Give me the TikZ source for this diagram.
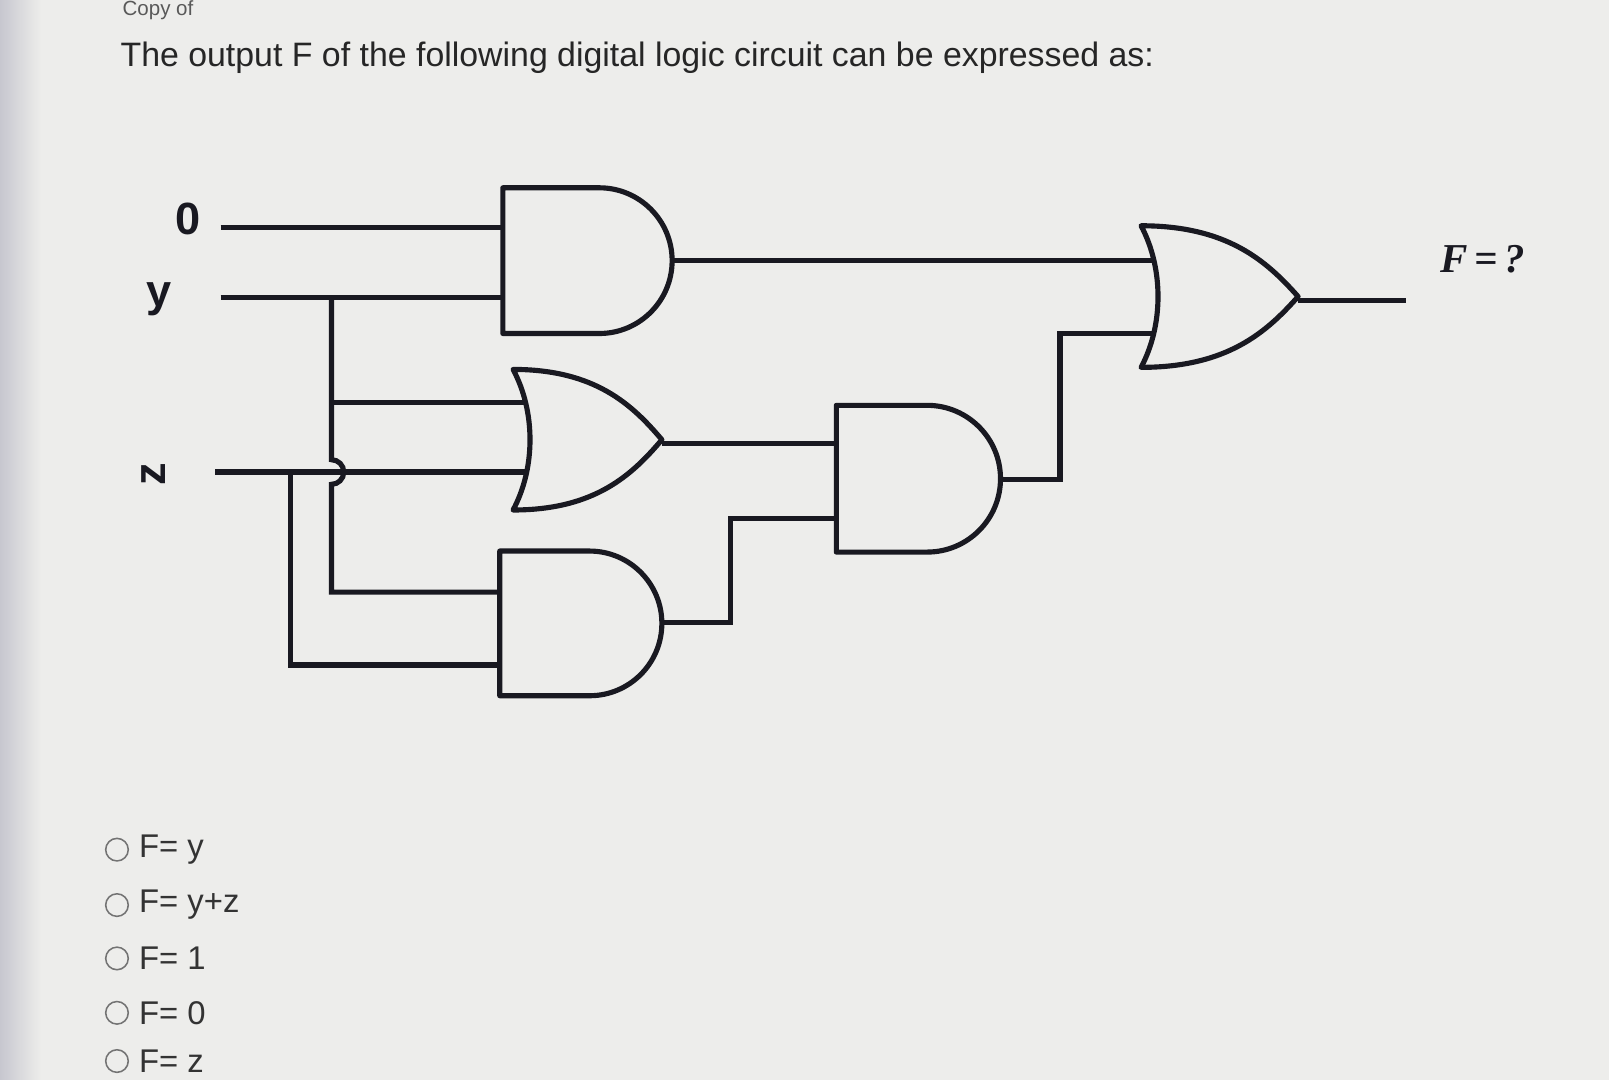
\documentclass[tikz,border=0pt]{standalone}
\usepackage{fontspec}
\setmainfont{Liberation Sans}
\newfontfamily\serifit{Liberation Serif}
\definecolor{bg}{rgb}{0.93,0.93,0.92}
\definecolor{ink}{rgb}{0.10,0.10,0.13}
\newcommand\andgatex[4]{% left top bottom right
  \draw[gate] (#1,#2) -- ({#4-(#3-#2)/2},#2) arc[start angle=-90,end angle=90,radius={(#3-#2)/2}] -- (#1,#3) -- cycle;}
\newcommand\orgatex[4]{% left top bottom tip
  \draw[gate] (#1,#2) .. controls ({#1+(#4-#1)*0.55},#2) and ({#4-(#4-#1)*0.2},{#2+(#3-#2)*0.25}) .. (#4,{(#2+#3)/2})
   .. controls ({#4-(#4-#1)*0.2},{#3-(#3-#2)*0.25}) and ({#1+(#4-#1)*0.55},#3) .. (#1,#3)
   .. controls ({#1+22},{#3-(#3-#2)*0.3}) and ({#1+22},{#2+(#3-#2)*0.3}) .. (#1,#2) -- cycle;}
\begin{document}
\begin{tikzpicture}[x=1pt,y=-1pt,
  gate/.style={draw=ink,line width=5pt,line join=round},
  wire/.style={draw=ink,line width=5pt,line join=miter},
  lbl/.style={font=\fontsize{44}{44}\selectfont\bfseries,text=ink},
  opt/.style={font=\fontsize{32}{32}\selectfont,text=black!80,anchor=west}]
\fill[bg] (0,0) rectangle (1568,1052);
\fill[left color=blue!15!black!22,right color=bg] (0,0) rectangle (40,1052);
\useasboundingbox (0,0) rectangle (1568,1052);
\node[anchor=west,font=\fontsize{20}{20}\selectfont,text=black!65] (copy) at (116,10) {Copy of};
\node[anchor=west,font=\fontsize{33}{33}\selectfont,text=black!85] (title) at (114,56) {The output F of the following digital logic circuit can be expressed as:};
\node[lbl] (l0) at (183,213) {0};
\node[lbl] (ly) at (155,292) {y};
\node[lbl,rotate=90] (lz) at (150,462) {z};
\node[font=\fontsize{40}{40}\selectfont\serifit\itshape\bfseries,text=ink] (F) at (1445,253) {F\,=\,?};
% wires
\draw[wire] (215,222) -- (492,222);
\draw[wire] (215,290) -- (492,290);
\draw[wire] (323,290) -- (323,448) arc[start angle=-90,end angle=90,radius=12] -- (323,577) -- (489,577);
\draw[wire] (323,392) -- (512,392);
\draw[wire] (210,460) -- (512,460);
\draw[wire] (283,460) -- (283,648) -- (489,648);
\draw[wire] (655,254) -- (1125,254);
\draw[wire] (645,432) -- (817,432);
\draw[wire] (645,607) -- (712,607) -- (712,505) -- (817,505);
\draw[wire] (975,467) -- (1033,467) -- (1033,325) -- (1125,325);
\draw[wire] (1265,293) -- (1370,293);
% gates
\andgatex{490}{183}{325}{655}
\orgatex{500}{360}{497}{645}
\andgatex{815}{395}{538}{975}
\andgatex{487}{537}{678}{645}
\orgatex{1112}{220}{358}{1265}
% options
\foreach \yy/\t [count=\i] in {828/{F= y},882/{F= y+z},934/{F= 1},987/{F= 0},1034/{F= z}}{
  \draw[black!55,line width=1.5pt] (114,\yy) circle[radius=11];
  \node[opt] (o\i) at (132,\yy) {\t};
}
\end{tikzpicture}
\end{document}
